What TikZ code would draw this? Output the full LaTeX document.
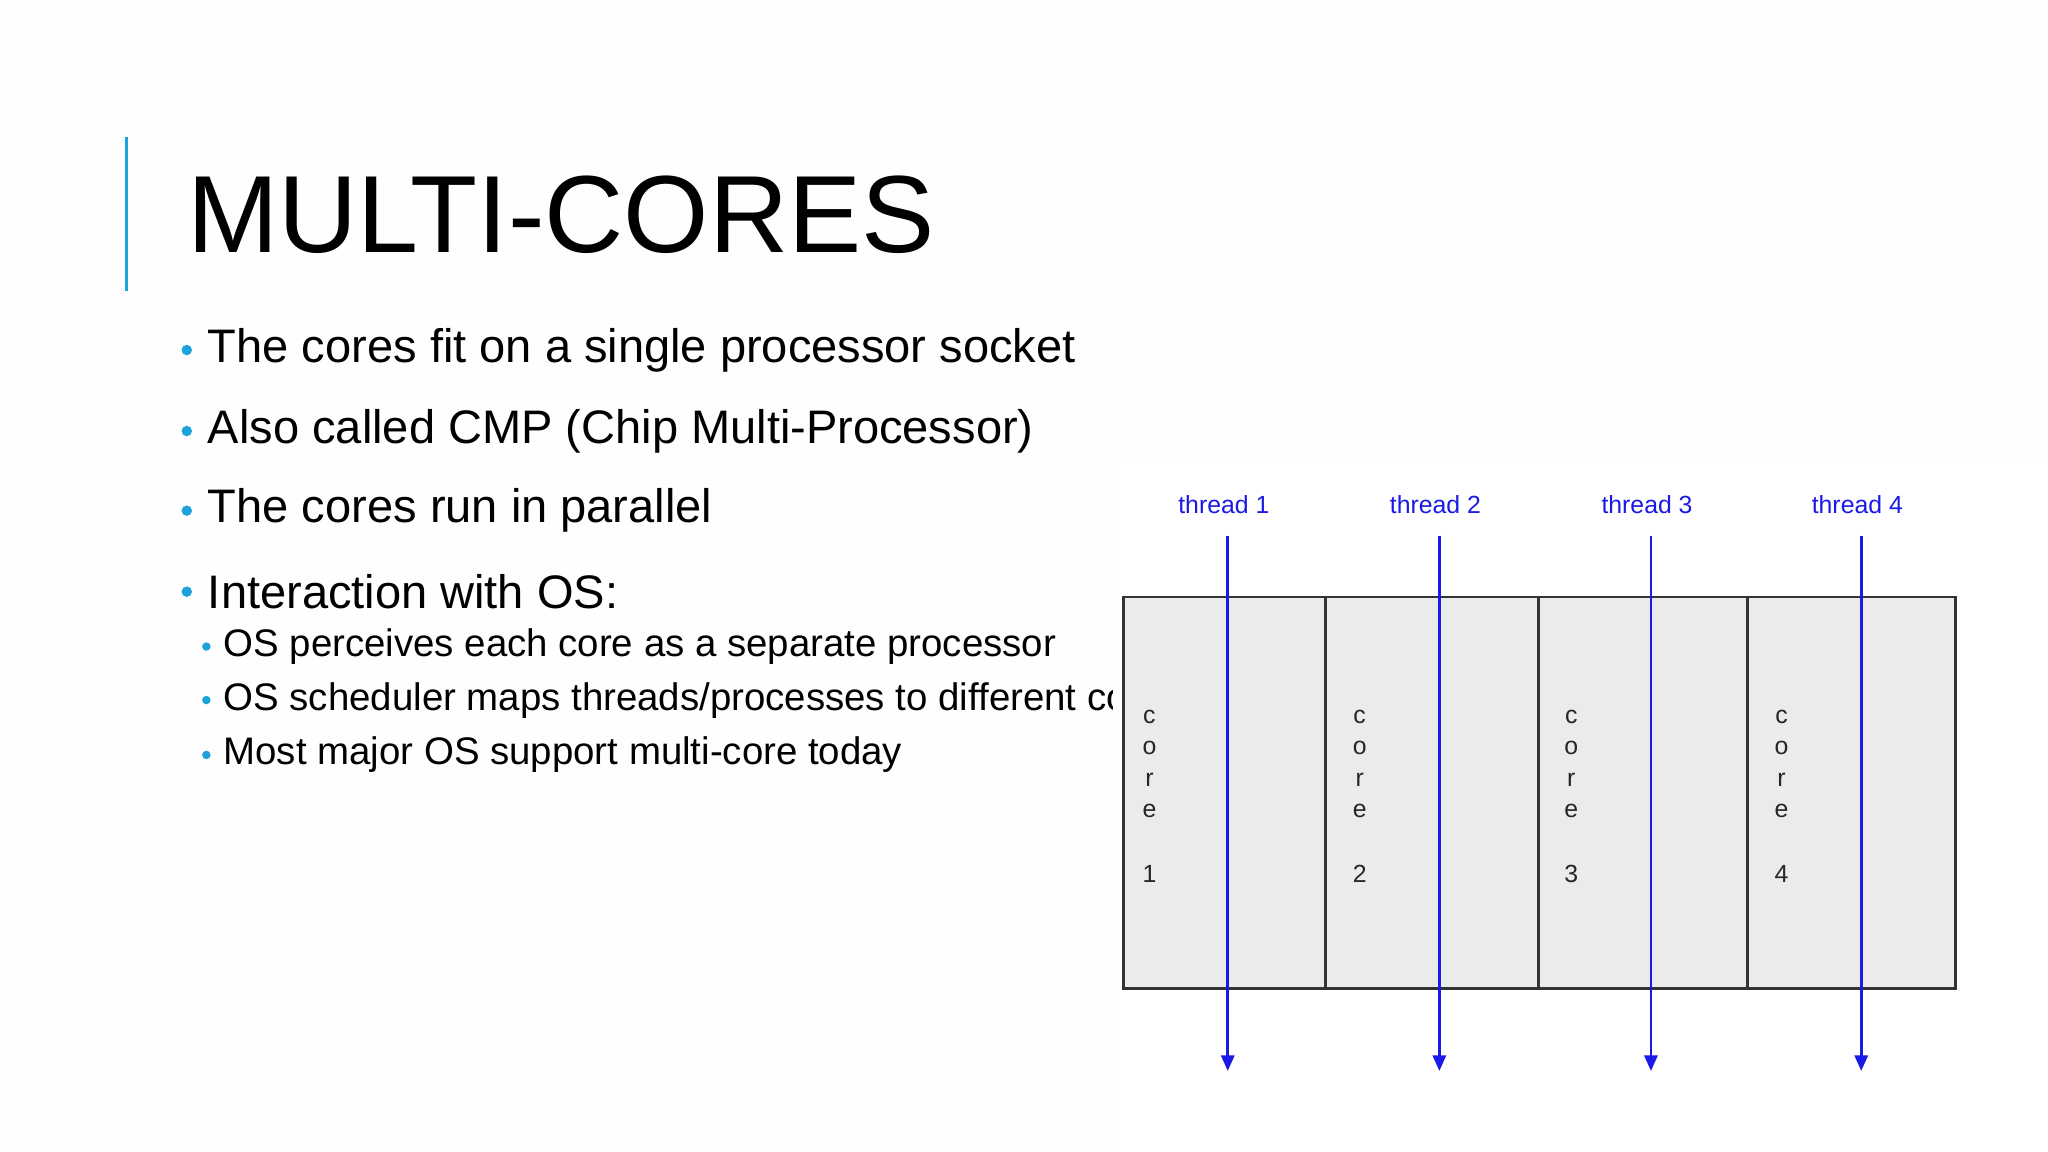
\documentclass[tikz,border=0pt]{standalone}
\usepackage{fontspec}
\setmainfont{Liberation Sans}
\usetikzlibrary{arrows.meta}
\definecolor{accent}{HTML}{1CA3DC}
\definecolor{corefill}{HTML}{EBEBEB}
\definecolor{thr}{HTML}{1A1AE6}
\tikzset{
 bul/.style={anchor=west,inner sep=0,font=\fontsize{36}{40}\selectfont},
 sub/.style={anchor=west,inner sep=0,font=\fontsize{29.4}{32}\selectfont},
 dot/.style={circle,fill=accent,inner sep=0,minimum size=#1},
 tlab/.style={text=thr,font=\fontsize{19}{22}\selectfont,inner sep=0},
 clab/.style={font=\fontsize{19}{22}\selectfont,inner sep=0,text=black!85},
 thread/.style={thr,line width=2.2pt,-{Triangle[length=12pt,width=10pt]}},
 corebox/.style={draw=black!80,line width=2pt,fill=corefill}
}
\begin{document}
\begin{tikzpicture}[x=1pt,y=-1pt]
\useasboundingbox[fill=white!99!gray] (0,0) rectangle (1568,882);
\draw[accent,line width=2.5pt] (97,105) -- (97,223);
\node[anchor=base west,inner sep=0,font=\fontsize{84}{90}\selectfont] (title) at (143,193) {MULTI-CORES};
\foreach \y/\t [count=\i] in {268/{The cores fit on a single processor socket},330/{Also called CMP (Chip Multi-Processor)},391/{The cores run in parallel},453/{Interaction with OS:}}{
 \node[dot=8pt] (bd\i) at (143,\y) {};
 \node[bul] (b\i) at (159,\y) {\t};
}
\node[dot=6.5pt] (sd1) at (158,495) {};
\node[sub] (s1) at (171,495) {OS perceives each core as a separate processor};
\node[dot=6.5pt] (sd2) at (158,536) {};
\node[sub] (s2) at (171,536) {OS scheduler maps threads/processes to different cores};
\node[dot=6.5pt] (sd3) at (158,578) {};
\node[sub] (s3) at (171,578) {Most major OS support multi-core today};
\fill[white] (852,350) rectangle (1568,882);
\foreach \a/\b/\c [count=\i] in {860/1015/880,1015/1178/1041,1178/1338/1203,1338/1497/1364}{
 \draw[corebox] (\a,457) rectangle (\b,757);
 \node[clab] (c\i) at (\c,549) {c};
 \node[clab] at (\c,573) {o};
 \node[clab] at (\c,597) {r};
 \node[clab] at (\c,621) {e};
 \node[clab] at (\c,669) {\i};
}
\foreach \x [count=\i] in {940,1102,1264,1425}{
 \node[tlab] (t\i) at (\x-3,386) {thread \i};
 \coordinate (ts\i) at (\x,410);
 \coordinate (te\i) at (\x,820);
 \draw[thread] (ts\i) -- (te\i);
}
\end{tikzpicture}
\end{document}
